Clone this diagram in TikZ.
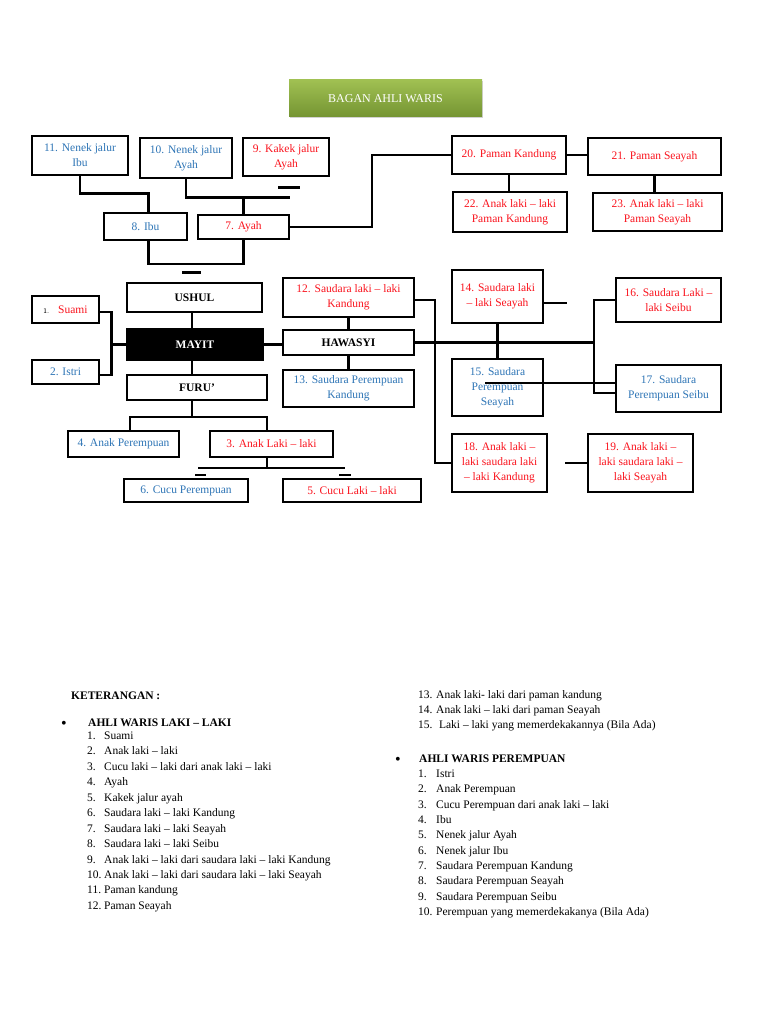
\documentclass[tikz,border=0pt]{standalone}
\usepackage{fontspec}
\setmainfont{Liberation Serif}
\usepackage{xcolor}
\usetikzlibrary{calc}
\usetikzlibrary{shadows}
\definecolor{merah}{RGB}{250,20,30}
\definecolor{biru}{RGB}{46,117,182}
\definecolor{hijauatas}{RGB}{160,192,82}
\definecolor{hijaubawah}{RGB}{116,148,50}

\begin{document}
\begin{tikzpicture}[x=1pt, y=-1pt,
		every node/.style={font=\fontsize{11.5}{15}\selectfont},
		sz/.style 2 args={minimum width=#1pt, minimum height=#2pt},
		kotak/.style={draw, line width=1.6pt, fill=white, align=center, inner sep=1pt},
		laki/.style={kotak, text=merah},
		pr/.style={kotak, text=biru},
		pokok/.style={kotak, font=\fontsize{11.5}{15}\selectfont\bfseries},
		garis/.style={line width=2.6pt},
		tipis/.style={line width=1.6pt},
		ket/.style={anchor=base west, inner sep=0pt},
		tebal/.style={ket, font=\fontsize{11.5}{15}\selectfont\bfseries},
		titik/.style={ket, font=\fontsize{16}{16}\selectfont}
	]
	\fill[white] (0,0) rectangle (768,1024);
	\useasboundingbox (0,0) rectangle (768,1024);

	% judul
	\node[top color=hijauatas, bottom color=hijaubawah, text=white, sz={193}{37},
		font=\fontsize{12}{15}\selectfont,
		drop shadow={opacity=0.35, shadow xshift=1pt, shadow yshift=-1.5pt}]
		(judul) at (385.5,98.5) {BAGAN AHLI WARIS};

	% ushul
	\node[pr, sz={96}{39}] (nenekibu) at (80,155.5) {11. Nenek jalur\\Ibu};
	\node[pr, sz={92}{40}] (nenekayah) at (186,158) {10. Nenek jalur\\Ayah};
	\node[laki, sz={86}{38}] (kakek) at (286,157) {9. Kakek jalur\\Ayah};
	\node[pr, sz={83}{27}] (ibu) at (145.5,226.5) {8. Ibu};
	\node[laki, sz={91}{24}] (ayah) at (243.5,227) {7. Ayah};
	\node[laki, sz={114}{38}] (pamank) at (509,155) {20. Paman Kandung};
	\node[laki, sz={133}{37}] (pamans) at (654.5,156.5) {21. Paman Seayah};
	\node[laki, sz={114}{40}] (anakpamank) at (510,212) {22. Anak laki -- laki\\Paman Kandung};
	\node[laki, sz={129}{38}] (anakpamans) at (657.5,212) {23. Anak laki -- laki\\Paman Seayah};

	% pusat
	\node[pokok, sz={135}{29}] (ushul) at (194.5,297.5) {USHUL};
	\node[kotak, sz={67}{27}] (suami) at (65.5,309.5) {{\sffamily\fontsize{7}{8}\selectfont 1.}\hspace{9pt}\textcolor{merah}{Suami}};
	\node[pokok, fill=black, text=white, sz={136}{31}] (mayit) at (195,344.5) {MAYIT};
	\node[pr, sz={67}{24}] (istri) at (65.5,372) {2. Istri};
	\node[pokok, sz={140}{25}] (furu) at (197,387.5) {FURU’};

	% hawasyi
	\node[laki, sz={131}{39}] (sdrlk) at (348.5,297.5) {12. Saudara laki -- laki\\Kandung};
	\node[pokok, sz={131}{25}] (hawasyi) at (348.5,342.5) {HAWASYI};
	\node[pr, sz={131}{37}] (sdrpk) at (348.5,388.5) {13. Saudara Perempuan\\Kandung};
	\node[laki, sz={91}{53}] (sdrls) at (497.5,296.5) {14. Saudara laki\\-- laki Seayah};
	\node[laki, sz={105}{44}] (sdrlb) at (668.5,300) {16. Saudara Laki --\\laki Seibu};
	\node[pr, sz={91}{57}] (sdrps) at (497.5,387.5) {15. Saudara\\Perempuan\\Seayah};
	\node[pr, sz={105}{47}] (sdrpb) at (668.5,388.5) {17. Saudara\\Perempuan Seibu};
	\node[laki, sz={95}{58}] (anaksdrk) at (499.5,463) {18. Anak laki --\\laki saudara laki\\-- laki Kandung};
	\node[laki, sz={105}{58}] (anaksdrs) at (640.5,463) {19. Anak laki --\\laki saudara laki --\\laki Seayah};

	% furu
	\node[pr, sz={111}{26}] (anakpr) at (123.5,444) {4. Anak Perempuan};
	\node[laki, sz={123}{26}] (anaklk) at (271.5,444) {3. Anak Laki -- laki};
	\node[pr, sz={124}{23}] (cucupr) at (186,490.5) {6. Cucu Perempuan};
	\node[laki, sz={138}{23}] (cuculk) at (352,490.5) {5. Cucu Laki -- laki};

	% garis ushul
	\draw[garis] (nenekibu.south) -- ++(0,18) -| ([xshift=3pt]ibu.north);
	\draw[garis] (nenekayah.south) -- ++(0,19) coordinate (jayah) -- ++(104,0);
	\draw[garis] (jayah -| ayah.north) -- (ayah.north);
	\draw[garis] ([xshift=-8pt,yshift=-11pt]kakek.south) -- ++(22,0);
	\draw[garis] ([xshift=3pt]ibu.south) -- ++(0,23) -| (ayah.south);
	\draw[garis] ([xshift=-12.5pt,yshift=10pt]ushul.north) -- ++(19,0);
	\draw[garis] (ayah.east) -- ++(82,0) |- (pamank.west);
	\draw[garis] (pamank.east) -- (pamank.east -| pamans.west);
	\draw[garis] (pamank.south) -- (pamank.south |- anakpamank.north);
	\draw[garis] (pamans.south) -- (pamans.south |- anakpamans.north);

	% garis pusat
	\draw[garis] ([xshift=-2.5pt]ushul.south) -- ([xshift=-2.5pt]ushul.south |- mayit.north);
	\draw[garis] ([xshift=-3pt]mayit.south) -- ([xshift=-3pt]mayit.south |- furu.north);
	\coordinate (jpasangan) at ([xshift=-15pt]mayit.west);
	\draw[garis] ([yshift=-2.5pt]suami.east) -| (jpasangan) |- ([yshift=-3pt]istri.east);
	\draw[garis] (mayit.west) -- (jpasangan);
	\draw[garis] (mayit.east) -- (mayit.east -| hawasyi.west);

	% garis hawasyi
	\draw[garis] (sdrlk.south) -- (sdrlk.south |- hawasyi.north);
	\draw[garis] (hawasyi.south) -- (hawasyi.south |- sdrpk.north);
	\draw[garis] ([yshift=-2.5pt]sdrlk.east) -- ++(20,0) |- (anaksdrk.west);
	\draw[garis] (hawasyi.east) -- ++(179,0) coordinate (jseibu);
	\draw[garis] (sdrlb.west) -| (jseibu) |- ([yshift=-4.5pt]sdrpb.west);
	\draw[garis] (sdrls.south) -- (sdrls.south |- sdrps.north);
	\draw[garis] ([yshift=-6.5pt]sdrls.east) -- ++(23,0);
	\coordinate (jseayah) at ([xshift=-12.5pt,yshift=4.5pt]sdrps.center);
	\draw[garis] (jseayah) -- (jseayah -| sdrpb.west);
	\draw[garis] (anaksdrs.west) -- ++(-22,0);

	% garis furu
	\draw[garis] ([xshift=-5pt]furu.south) -- ++(0,16) coordinate (jfuru);
	\draw[garis] ([xshift=6.5pt]anakpr.north) |- (jfuru) -| ([xshift=-4.5pt]anaklk.north);
	\draw[garis] ([xshift=-4.5pt]anaklk.south) -- ++(0,10) coordinate (jcucu);
	\draw[tipis] ([xshift=-69pt]jcucu) -- ([xshift=78pt]jcucu);
	\draw[garis] ([xshift=-72pt,yshift=-7pt]jcucu) -- ++(11,0);
	\draw[garis] ([xshift=72pt,yshift=-7pt]jcucu) -- ++(12,0);

	% keterangan
	\node[tebal] (keterangan) at (71,699) {KETERANGAN :};
	\node[titik] (titiklk) at (61,728) {\textbullet};
	\node[tebal] (judullk) at (88,726) {AHLI WARIS LAKI -- LAKI};
	\foreach \t [count=\i] in {Suami, Anak laki -- laki, Cucu laki -- laki dari anak laki -- laki,
		Ayah, Kakek jalur ayah, Saudara laki -- laki Kandung, Saudara laki -- laki Seayah,
		Saudara laki -- laki Seibu, Anak laki -- laki dari saudara laki -- laki Kandung,
		Anak laki -- laki dari saudara laki -- laki Seayah, Paman kandung, Paman Seayah}
	{
		\node[ket] (nolk\i) at (87,{724+15.45*\i}) {\i.};
		\node[ket] (lk\i) at (104,{724+15.45*\i}) {\t};
	}
	\foreach \t [count=\i from 13] in {Anak laki- laki dari paman kandung,
		Anak laki -- laki dari paman Seayah, \ Laki -- laki yang memerdekakannya (Bila Ada)}
	{
		\node[ket] (nolk\i) at (418,{698+15.45*(\i-13)}) {\i.};
		\node[ket] (lk\i) at (436,{698+15.45*(\i-13)}) {\t};
	}
	\node[titik] (titikpr) at (395,764) {\textbullet};
	\node[tebal] (judulpr) at (419,762) {AHLI WARIS PEREMPUAN};
	\foreach \t [count=\i] in {Istri, Anak Perempuan, Cucu Perempuan dari anak laki -- laki,
		Ibu, Nenek jalur Ayah, Nenek jalur Ibu, Saudara Perempuan Kandung,
		Saudara Perempuan Seayah, Saudara Perempuan Seibu,
		Perempuan yang memerdekakanya (Bila Ada)}
	{
		\node[ket] (nopr\i) at (418,{762+15.35*\i}) {\i.};
		\node[ket] (pr\i) at (436,{762+15.35*\i}) {\t};
	}
\end{tikzpicture}
\end{document}
